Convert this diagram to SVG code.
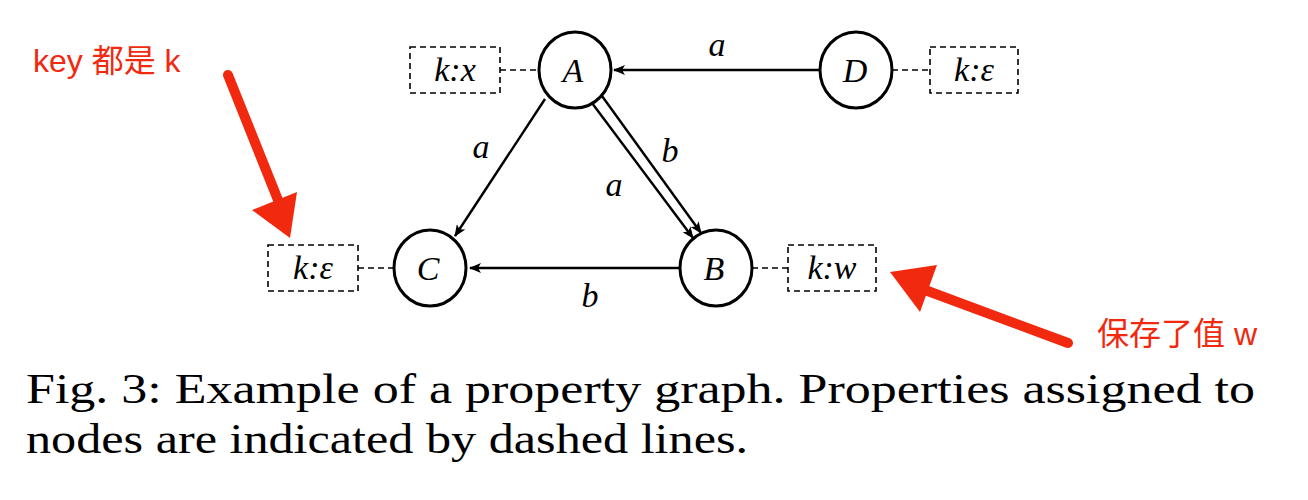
<svg xmlns="http://www.w3.org/2000/svg" width="1308" height="500" viewBox="0 0 1308 500">
<style>
.n{fill:#fff;stroke:#000;stroke-width:3}
.p{fill:none;stroke:#000;stroke-width:1.6;stroke-dasharray:6 4}
.e{fill:none;stroke:#000;stroke-width:2.4}
.t{font-family:"Liberation Serif",serif;font-style:italic;font-size:34px;text-anchor:middle}
.r{font-family:"Liberation Sans","Noto Sans CJK SC",sans-serif;font-size:32px;fill:#f0290f}
.c{font-family:"Liberation Serif",serif;font-size:42px}
</style>
<defs>
<marker id="ah" viewBox="0 0 12 10" refX="11" refY="5" markerWidth="12" markerHeight="10" markerUnits="userSpaceOnUse" orient="auto"><path d="M0,0 L12,5 L0,10 L3,5 Z" fill="#000"/></marker>
</defs>
<g id="connectors">
<line class="e" x1="819" y1="70" x2="614" y2="70" marker-end="url(#ah)"/>
<line class="e" x1="545" y1="99" x2="455" y2="236" marker-end="url(#ah)"/>
<line class="e" x1="592" y1="103" x2="693" y2="238" marker-end="url(#ah)"/>
<line class="e" x1="602" y1="96" x2="701" y2="233" marker-end="url(#ah)"/>
<line class="e" x1="679" y1="268" x2="470" y2="268" marker-end="url(#ah)"/>
<line class="p" x1="500" y1="70" x2="538" y2="70"/>
<line class="p" x1="892" y1="70" x2="930" y2="70"/>
<line class="p" x1="358" y1="268" x2="394" y2="268"/>
<line class="p" x1="752" y1="268" x2="788" y2="268"/>
<text class="t" x="717" y="56">a</text>
<text class="t" x="481" y="158">a</text>
<text class="t" x="670" y="162">b</text>
<text class="t" x="614" y="196">a</text>
<text class="t" x="590" y="307">b</text>
</g>
<g id="A"><ellipse class="n" cx="575" cy="70" rx="36" ry="38"/><text class="t" x="573" y="82">A</text></g>
<g id="D"><ellipse class="n" cx="856" cy="70" rx="36" ry="38"/><text class="t" x="855" y="82">D</text></g>
<g id="C"><ellipse class="n" cx="430" cy="268" rx="36" ry="38"/><text class="t" x="428" y="280">C</text></g>
<g id="B"><ellipse class="n" cx="716" cy="268" rx="36" ry="38"/><text class="t" x="714" y="280">B</text></g>
<g id="pA"><rect class="p" x="410" y="47" width="90" height="46"/><text class="t" x="455" y="81">k:x</text></g>
<g id="pD"><rect class="p" x="930" y="47" width="88" height="46"/><text class="t" x="974" y="81">k:ε</text></g>
<g id="pC"><rect class="p" x="268" y="245" width="90" height="46"/><text class="t" x="313" y="279">k:ε</text></g>
<g id="pB"><rect class="p" x="788" y="245" width="88" height="46"/><text class="t" x="832" y="279">k:w</text></g>
<g id="notes">
<text class="r" x="33" y="72">key 都是 k</text>
<line x1="228" y1="75" x2="280" y2="205" stroke="#f0290f" stroke-width="10" stroke-linecap="round"/>
<polygon points="252,210 297,192 290,238" fill="#f0290f"/>
<text class="r" x="1097" y="345">保存了值 w</text>
<line x1="1068" y1="343" x2="925" y2="290" stroke="#f0290f" stroke-width="10" stroke-linecap="round"/>
<polygon points="890,272 937,265 920,312" fill="#f0290f"/>
</g>
<text class="c" x="26" y="403" textLength="1229" lengthAdjust="spacingAndGlyphs">Fig. 3: Example of a property graph. Properties assigned to</text>
<text class="c" x="26" y="453" textLength="722" lengthAdjust="spacingAndGlyphs">nodes are indicated by dashed lines.</text>
</svg>
